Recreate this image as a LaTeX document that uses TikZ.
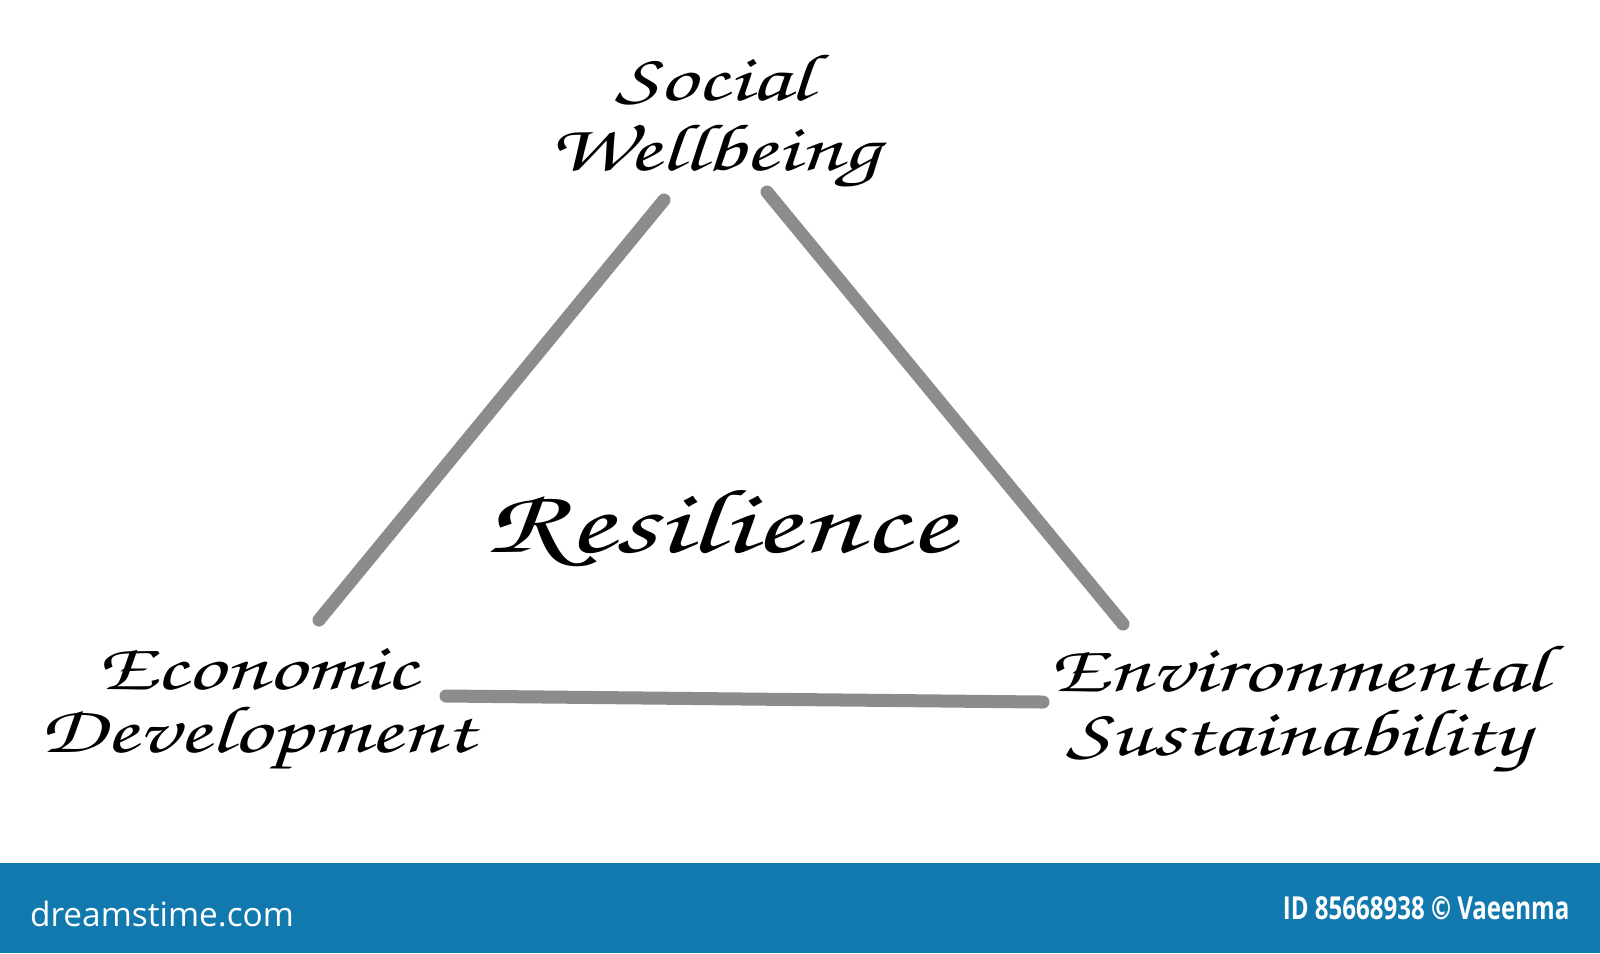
\documentclass[tikz,border=0pt]{standalone}
\usepackage[T1]{fontenc}
\usepackage{fontspec}
\usepackage{graphicx}
\usepackage{tikz}
\usetikzlibrary{positioning}
\newfontfamily\barfont{Open Sans}
\newcommand\handfont{\fontencoding{T1}\fontfamily{pzc}\fontseries{mb}\fontshape{it}\selectfont}
\newcommand\hand[1]{\scalebox{1.4}[1]{#1}}
\definecolor{grisline}{RGB}{140, 140, 140}
\definecolor{azulbar}{RGB}{17, 121, 174}
\tikzset{
    pillar/.style={align=center, text=black, inner sep=0pt,
        font=\handfont\fontsize{19}{22}\selectfont},
    core/.style={text=black, inner sep=0pt,
        font=\handfont\fontsize{26}{30}\selectfont},
    side/.style={-, grisline, line width=3.7pt, line cap=round},
    tag/.style={text=white, inner sep=0pt},
}

\begin{document}
\begin{tikzpicture}[x=0.01cm, y=-0.01cm]

            \useasboundingbox (0,0) rectangle (1600,953);
            \fill[white] (0,0) rectangle (1600,953);

            % bottom banner
            \fill[azulbar] (0,863) rectangle (1600,953);

            \node[pillar] (social) at (714,122) {\hand{Social}\\[-2pt]\hand{Wellbeing}};
            \node[pillar] (econ) at (257,711) {\hand{Economic}\\[-4pt]\hand{Development}};
            \node[pillar] (envir) at (1298,710) {\hand{Environmental}\\[-4pt]\hand{Sustainability}};
            \node[core] (resil) at (720,528) {\scalebox{1.48}[1]{Resilience}};

            \coordinate (econ-up) at (319,620);
            \coordinate (social-left) at (664,200);
            \coordinate (social-right) at (767,192);
            \coordinate (envir-up) at (1123,624);
            \coordinate (econ-right) at (446,696);
            \coordinate (envir-left) at (1043,702);

            \draw[side] (econ-up) -- (social-left);
            \draw[side] (social-right) -- (envir-up);
            \draw[side] (econ-right) -- (envir-left);

            \node[tag, font=\barfont\fontsize{9.5}{11}\selectfont] (site) at (162,914) {dreamstime.com};
            \node[tag, font=\barfont\bfseries\fontsize{9}{11}\selectfont, anchor=east] (credit) at (1570,908) {\scalebox{0.76}[1]{ID 85668938 © Vaeenma}};
        \end{tikzpicture}
\end{document}
